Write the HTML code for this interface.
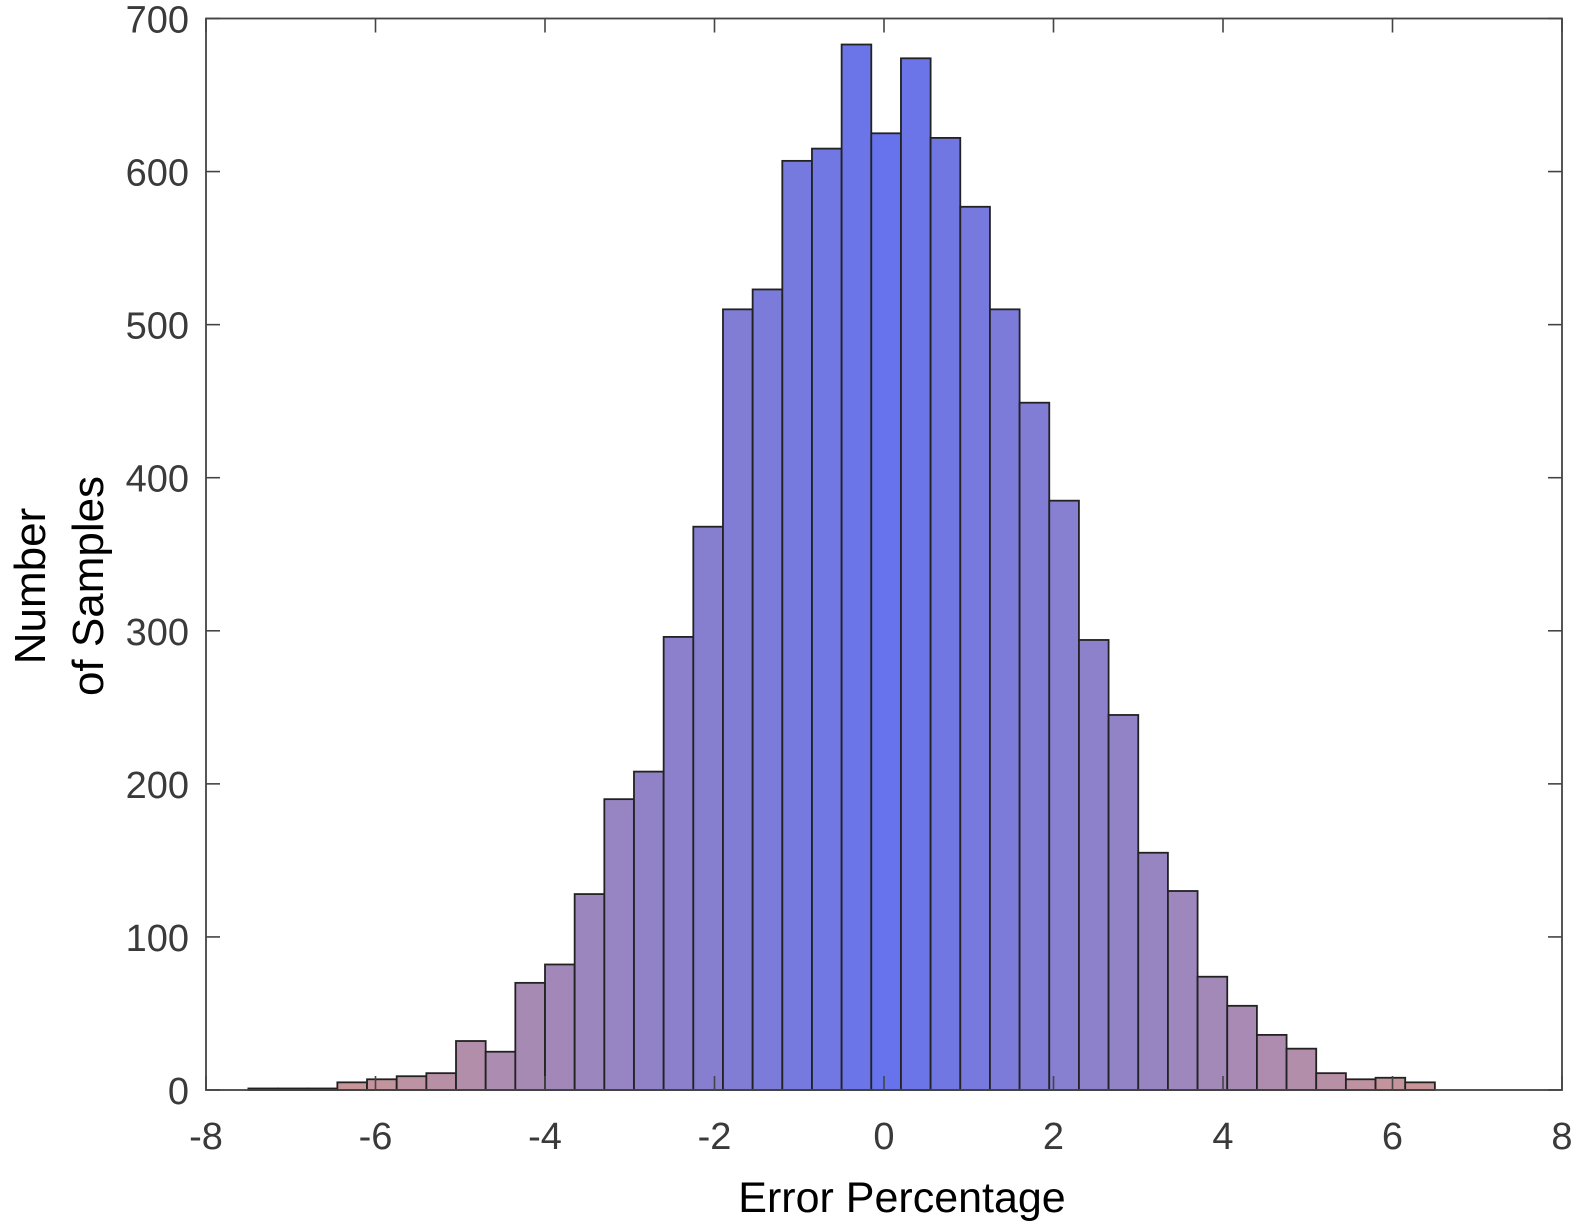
<!DOCTYPE html>
<html><head><meta charset="utf-8">
<style>
html,body{margin:0;padding:0;background:#fff;width:1577px;height:1231px;overflow:hidden;}
svg{display:block;}
</style></head>
<body>
<svg id="chart" width="1577" height="1231" xmlns="http://www.w3.org/2000/svg">
<g id="bars"></g>
<g id="axes"></g>
</svg>
<script>
const binStart = -7.5;
const binWidth = 0.35;
const counts = [1,1,1,5,7,9,11,32,25,70,82,128,190,208,296,368,510,523,607,615,683,625,674,622,577,510,449,385,294,245,155,130,74,55,36,27,11,7,8,5];
const xTicks = [-8,-6,-4,-2,0,2,4,6,8];
const xTickLabels = ["-8","-6","-4","-2","0","2","4","6","8"];
const yTicks = [0,100,200,300,400,500,600,700];
const yTickLabels = ["0","100","200","300","400","500","600","700"];

const L=206,R=1562,T=18.5,B=1090;
const xMin=-8,xMax=8,yMin=0,yMax=700;
const sx=v=>L+(v-xMin)/(xMax-xMin)*(R-L);
const sy=v=>B-(v-yMin)/(yMax-yMin)*(B-T);
const NS="http://www.w3.org/2000/svg";
const bars=document.getElementById('bars');
const axes=document.getElementById('axes');
function mk(tag,attrs,parent){const e=document.createElementNS(NS,tag);for(const k in attrs)e.setAttribute(k,attrs[k]);parent.appendChild(e);return e;}

const c0=[102,115,236], c1=[200,150,152];
counts.forEach((c,i)=>{
  const x0=binStart+i*binWidth, x1=x0+binWidth, xc=(x0+x1)/2;
  const t=Math.min(1,Math.abs(xc)/6.3);
  const col=c0.map((v,j)=>Math.round(v+(c1[j]-v)*t));
  const r=mk('rect',{x:sx(x0),y:sy(c),width:sx(x1)-sx(x0),height:sy(0)-sy(c),fill:`rgb(${col})`,stroke:'#222','stroke-width':1.8},bars);
  
  
});

const box=mk('rect',{x:L,y:T,width:R-L,height:B-T,fill:'none',stroke:'#444','stroke-width':1.8},axes);



xTicks.forEach((v,i)=>{
  const x=sx(v);
  mk('line',{x1:x,x2:x,y1:B,y2:B-14,stroke:'#444','stroke-width':1.6},axes);
  mk('line',{x1:x,x2:x,y1:T,y2:T+14,stroke:'#444','stroke-width':1.6},axes);
  const t=mk('text',{x:x,y:B+59,'text-anchor':'middle','font-family':'Liberation Sans, Arial, sans-serif','font-size':38,fill:'#3a3a3a'},axes);
  t.textContent=xTickLabels[i];
  
  
});
yTicks.forEach((v,i)=>{
  const y=sy(v);
  mk('line',{x1:L,x2:L+14,y1:y,y2:y,stroke:'#444','stroke-width':1.6},axes);
  mk('line',{x1:R,x2:R-14,y1:y,y2:y,stroke:'#444','stroke-width':1.6},axes);
  const t=mk('text',{x:L-17,y:y+14,'text-anchor':'end','font-family':'Liberation Sans, Arial, sans-serif','font-size':38,fill:'#3a3a3a'},axes);
  t.textContent=yTickLabels[i];
  
  
});

const xt=mk('text',{x:902,y:1212,'text-anchor':'middle','font-family':'Liberation Sans, Arial, sans-serif','font-size':43,fill:'#000'},axes);
xt.textContent='Error Percentage';



const yt=mk('text',{transform:'translate(45,586) rotate(-90)','text-anchor':'middle','font-family':'Liberation Sans, Arial, sans-serif','font-size':44,fill:'#000'},axes);


const s1=mk('tspan',{x:0,dy:0},yt); s1.textContent='Number';
const s2=mk('tspan',{x:0,dy:58},yt); s2.textContent='of Samples';
</script>
</body></html>
